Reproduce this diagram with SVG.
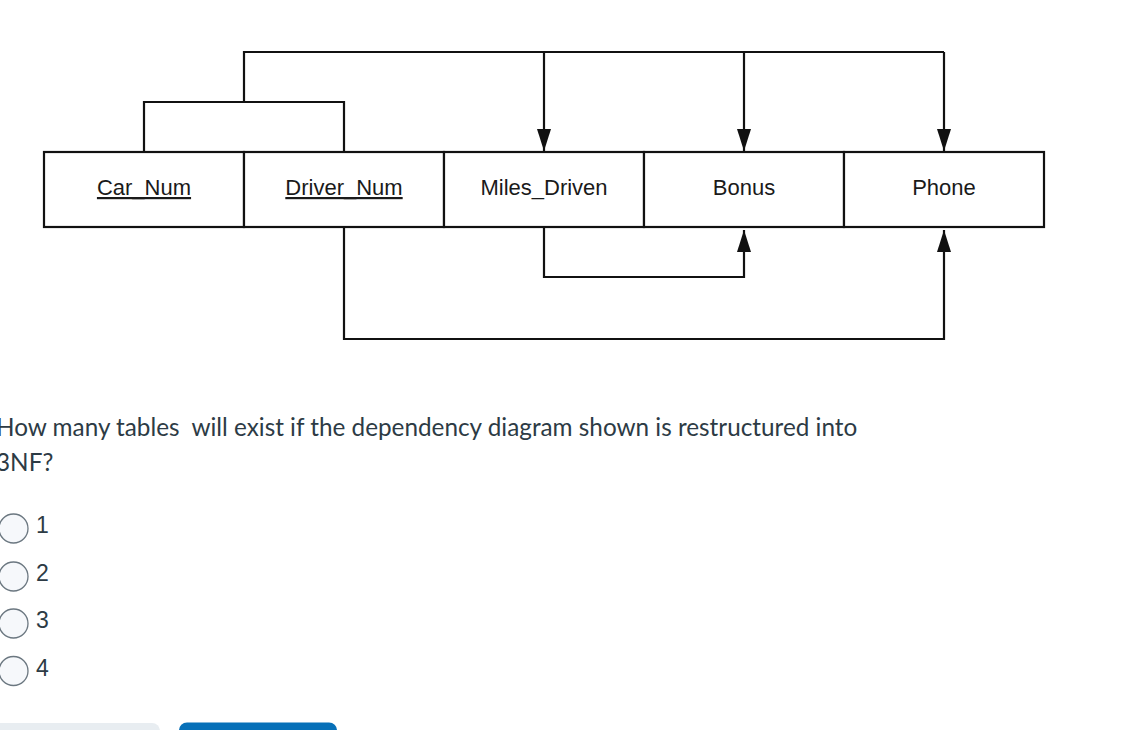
<svg xmlns="http://www.w3.org/2000/svg" width="1136" height="730" viewBox="0 0 1136 730">
<style>
.cell{fill:#fff;stroke:#111;stroke-width:2.2}
.lbl{font-family:"Liberation Sans",Arial,sans-serif;font-size:22px;fill:#1a1a1a;text-anchor:middle}
.key{text-decoration:underline}
.conn{fill:none;stroke:#111;stroke-width:2.2}
.q{font-family:Lato,"Noto Sans",sans-serif;font-size:24.3px;fill:#2d3b45;white-space:pre}
.opt{font-family:"Liberation Sans",Arial,sans-serif;font-size:23px;fill:#2d3b45}
.radio{fill:#f6f8fb;stroke:#6b7780;stroke-width:1.3}
</style>
<defs>
<marker id="arr" viewBox="0 0 22 14" refX="22" refY="7" markerWidth="22" markerHeight="14" markerUnits="userSpaceOnUse" orient="auto">
<path d="M0,0 L22,7 L0,14 Z" fill="#111"/>
</marker>
</defs>
<rect width="1136" height="730" fill="#fff"/>
<g id="connectors">
<path class="conn" d="M144,152 V102 H344 V152"/>
<path class="conn" d="M244,102 V52 H944"/>
<path class="conn" d="M544,52 V151" marker-end="url(#arr)"/>
<path class="conn" d="M744,52 V151" marker-end="url(#arr)"/>
<path class="conn" d="M944,52 V151" marker-end="url(#arr)"/>
<path class="conn" d="M544,227 V277 H744 V230" marker-end="url(#arr)"/>
<path class="conn" d="M344,227 V339 H944 V230" marker-end="url(#arr)"/>
</g>
<g id="car_num"><rect class="cell" x="44" y="152" width="200" height="75"/><text class="lbl key" x="144" y="195">Car_Num</text></g>
<g id="driver_num"><rect class="cell" x="244" y="152" width="200" height="75"/><text class="lbl key" x="344" y="195">Driver_Num</text></g>
<g id="miles_driven"><rect class="cell" x="444" y="152" width="200" height="75"/><text class="lbl" x="544" y="195">Miles_Driven</text></g>
<g id="bonus"><rect class="cell" x="644" y="152" width="200" height="75"/><text class="lbl" x="744" y="195">Bonus</text></g>
<g id="phone"><rect class="cell" x="844" y="152" width="200" height="75"/><text class="lbl" x="944" y="195">Phone</text></g>
<g id="question">
<text class="q" x="-4" y="436" xml:space="preserve">How many tables  will exist if the dependency diagram shown is restructured into</text>
<text class="q" x="-4" y="471">3NF?</text>
</g>
<g id="options">
<circle class="radio" cx="13.5" cy="528.5" r="14.5"/><text class="opt" x="36" y="533">1</text>
<circle class="radio" cx="13.5" cy="576.5" r="14.5"/><text class="opt" x="36" y="581">2</text>
<circle class="radio" cx="13.5" cy="623.5" r="14.5"/><text class="opt" x="36" y="628">3</text>
<circle class="radio" cx="13.5" cy="671" r="14.5"/><text class="opt" x="36" y="676">4</text>
</g>
<g id="buttons">
<rect x="-10" y="723" width="170" height="30" rx="8" fill="#e8edf1"/>
<rect x="179" y="722.5" width="158" height="30" rx="8" fill="#0770b8"/>
</g>
</svg>
